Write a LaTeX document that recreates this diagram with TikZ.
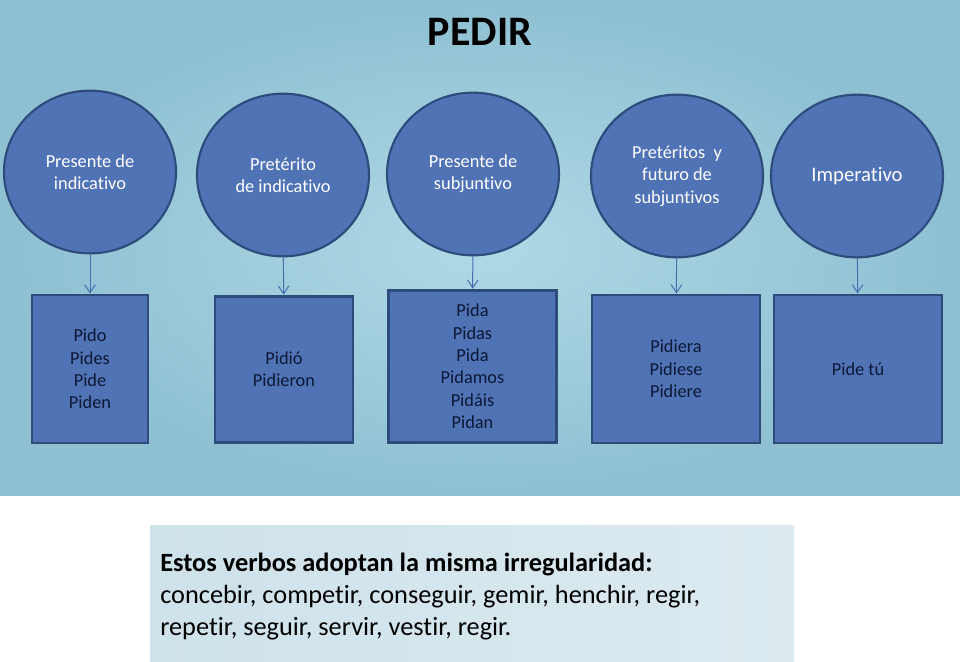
\documentclass[tikz,border=0pt]{standalone}
\usepackage{fontspec}
\setmainfont{Carlito}[Ligatures=NoCommon]
\usepackage{tikz}
\usetikzlibrary{positioning,shapes.geometric,arrows.meta}

\definecolor{bgOut}{RGB}{142,192,210}
\definecolor{bgIn}{RGB}{176,217,230}
\definecolor{shapeFill}{RGB}{80,115,182}
\definecolor{shapeLine}{RGB}{45,76,124}
\definecolor{arrowBlue}{RGB}{70,110,175}
\definecolor{boxText}{RGB}{12,24,52}
\definecolor{noteL}{RGB}{206,226,234}
\definecolor{noteR}{RGB}{220,234,240}

\begin{document}
\begin{tikzpicture}[x=0.75pt,y=0.75pt,yscale=-1,xscale=1,
    tense/.style={ellipse,draw=shapeLine,line width=1.6pt,fill=shapeFill,
      minimum width=129pt,minimum height=122pt,inner sep=0pt,
      text=white,align=center,font=\fontsize{13.75}{16.75}\selectfont},
    forms/.style={rectangle,draw=shapeLine,line width=2.2pt,fill=shapeFill,
      inner sep=0pt,text=boxText,align=center,font=\fontsize{13.75}{16.75}\selectfont},
    link/.style={draw=arrowBlue,line width=0.75pt,-{Straight Barb[length=6pt,width=8pt]}}]
        \useasboundingbox (0,0) rectangle (960,661);

        % background
        \shade [inner color=bgIn,outer color=bgOut] (0,0) rectangle (960,496);
        \fill [white] (0,496) rectangle (960,661);

        % title
        \node (title) at (480,32) {\fontsize{31.5}{36}\selectfont\bfseries PEDIR};

        % tenses
        \node [tense] (pres) at (90,172) {Presente de\\indicativo};
        \node [tense] (pret) at (283,175) {Pretérito\\de indicativo};
        \node [tense] (subj) at (473,174) {Presente de\\subjuntivo};
        \node [tense] (fut) at (677,176) {Pretéritos\ \ y\\futuro de\\subjuntivos};
        \node [tense,font=\fontsize{15.5}{18}\selectfont] (imp) at (857,176) {Imperativo};

        % forms
        \node [forms,minimum width=87pt,minimum height=111pt] (presB) at (90,369) {Pido\\Pides\\Pide\\Piden};
        \node [forms,minimum width=103.5pt,minimum height=110pt] (pretB) at (284,369.5) {Pidió\\Pidieron};
        \node [forms,minimum width=126.5pt,minimum height=114.5pt] (subjB) at (472.5,366.5) {Pida\\Pidas\\Pida\\Pidamos\\Pidáis\\Pidan};
        \node [forms,minimum width=126pt,minimum height=111pt] (futB) at (676,369) {Pidiera\\Pidiese\\Pidiere};
        \node [forms,minimum width=126pt,minimum height=111pt] (impB) at (858,369) {Pide tú};

        % arrows
        \draw [link] (pres) -- (presB);
        \draw [link] (pret) -- (pretB);
        \draw [link] (subj) -- (subjB);
        \draw [link] (fut) -- (futB);
        \draw [link] (imp) -- (impB);

        % note
        \shade [left color=noteL,right color=noteR] (150,525) rectangle (794,661);
        \node [anchor=north west,inner sep=0pt,align=left,text=black,
          font=\fontsize{19.75}{24}\selectfont] (note) at (160,553)
          {\textbf{Estos verbos adoptan la misma irregularidad:}\\
           concebir,\ competir, conseguir, gemir, henchir, regir,\\
           repetir, seguir, servir, vestir, regir.};
\end{tikzpicture}
\end{document}
